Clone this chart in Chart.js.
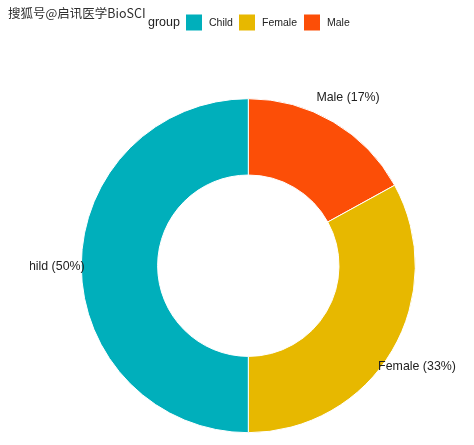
<!DOCTYPE html>
<html>
<head>
<meta charset="utf-8">
<script src="https://cdn.jsdelivr.net/npm/chart.js@4"></script>
<style>
html,body{margin:0;padding:0;background:#fff;}
#wrap{position:relative;width:474px;height:445px;}
</style>
</head>
<body>
<div id="wrap"><canvas id="c" width="474" height="445"></canvas></div>
<script>
// Data (drawing order: clockwise from 12 o'clock)
const categories = ['Male', 'Female', 'Child'];
const values = [17, 33, 50];
const colors = ['#FC4E07', '#E7B800', '#00AFBB'];
// Legend order
const legendOrder = ['Child', 'Female', 'Male'];
const legendTitle = 'group';
const watermark = '搜狐号@启讯医学BioSCI';

const total = values.reduce((a, b) => a + b, 0);

const overlay = {
  id: 'overlay',
  afterDraw(chart) {
    const ctx = chart.ctx;
    ctx.save();
    // watermark
    ctx.font = '12.5px "Noto Sans CJK SC", sans-serif';
    ctx.fillStyle = '#2e2e2e';
    ctx.textAlign = 'left';
    ctx.textBaseline = 'middle';
    ctx.fillText(watermark, 8, 13);

    // legend
    ctx.font = '12.5px "Liberation Sans", Arial, sans-serif';
    ctx.fillStyle = '#222';
    ctx.fillText(legendTitle, 148, 23);
    const pos = [186, 239, 304];
    ctx.font = '10.5px "Liberation Sans", Arial, sans-serif';
    legendOrder.forEach((name, i) => {
      const idx = categories.indexOf(name);
      ctx.fillStyle = colors[idx];
      ctx.fillRect(pos[i], 14.5, 16, 16);
      ctx.fillStyle = '#222';
      ctx.fillText(name, pos[i] + 23, 23);
    });

    // slice labels
    ctx.beginPath();
    ctx.rect(30, 0, 474 - 30, 445);
    ctx.clip();
    ctx.font = '12.4px "Liberation Sans", Arial, sans-serif';
    ctx.textAlign = 'center';
    ctx.fillStyle = '#222';
    const meta = chart.getDatasetMeta(0);
    meta.data.forEach((arc, i) => {
      const p = arc.getProps(['x', 'y', 'startAngle', 'endAngle', 'outerRadius'], true);
      const mid = (p.startAngle + p.endAngle) / 2;
      const r = p.outerRadius + 29;
      const x = p.x + r * Math.cos(mid);
      const y = p.y + r * Math.sin(mid) + 1;
      const pct = Math.round(values[i] / total * 100);
      ctx.fillText(categories[i] + ' (' + pct + '%)', x, y);
    });
    ctx.restore();
  }
};

new Chart(document.getElementById('c'), {
  type: 'doughnut',
  data: {
    labels: categories,
    datasets: [{
      data: values,
      backgroundColor: colors,
      borderColor: '#ffffff',
      borderWidth: 1
    }]
  },
  options: {
    responsive: false,
    animation: false,
    cutout: '54.3%',
    layout: { padding: { left: 80.8, right: 58.2, top: 98.2, bottom: 11.8 } },
    plugins: {
      legend: { display: false },
      tooltip: { enabled: false }
    }
  },
  plugins: [overlay]
});
</script>
</body>
</html>
